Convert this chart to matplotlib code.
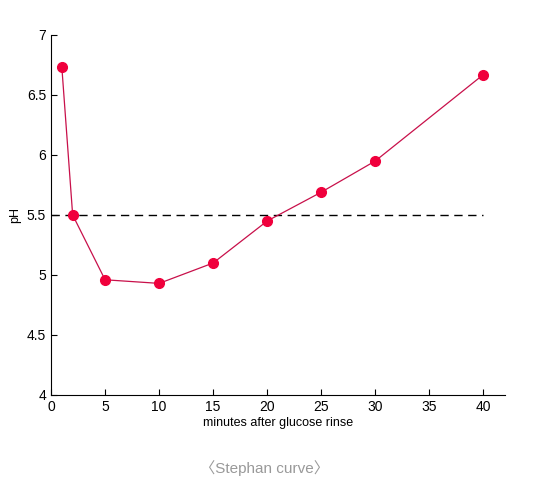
import matplotlib
matplotlib.use("Agg")
import matplotlib.pyplot as plt

plt.rcParams['font.family'] = ['Liberation Sans', 'DejaVu Sans']

minutes = [1, 2, 5, 10, 15, 20, 25, 30, 40]
ph = [6.73, 5.50, 4.96, 4.93, 5.10, 5.45, 5.69, 5.95, 6.67]
critical_x = [0, 40]
critical_ph = [5.5, 5.5]
xticks = [0, 5, 10, 15, 20, 25, 30, 35, 40]
yticks = [4, 4.5, 5, 5.5, 6, 6.5, 7]
ytick_labels = ["4", "4.5", "5", "5.5", "6", "6.5", "7"]

fig = plt.figure(figsize=(5.43, 5.01), dpi=100)
ax = fig.add_axes([0.094, 0.2116, 0.836, 0.7186])

ax.plot(critical_x, critical_ph, linestyle=(0, (6, 4)), color="black", linewidth=1.0)
ax.plot(minutes, ph, color="#C8104A", linewidth=0.9, marker="o",
        markersize=7, markerfacecolor="#F0003C", markeredgecolor="#F0003C")

ax.set_xlim(0, 42)
ax.set_ylim(4, 7)
ax.set_xticks(xticks)
ax.set_xticklabels([str(t) for t in xticks])
ax.set_yticks(yticks)
ax.set_yticklabels(ytick_labels)
ax.spines["top"].set_visible(False)
ax.spines["right"].set_visible(False)
ax.tick_params(direction="in", length=4, width=0.8, labelsize=10)
ax.set_xlabel("minutes after glucose rinse", fontsize=9, labelpad=2)
ax.set_ylabel("pH", fontsize=9, labelpad=4)

fig.text(0.488, 0.066, "\u3008Stephan curve\u3009", ha="center", va="center",
         fontsize=11, color="#999999",
         family=['Liberation Sans', 'Noto Sans CJK SC', 'DejaVu Sans'])

fig.savefig("out.png", dpi=100)
